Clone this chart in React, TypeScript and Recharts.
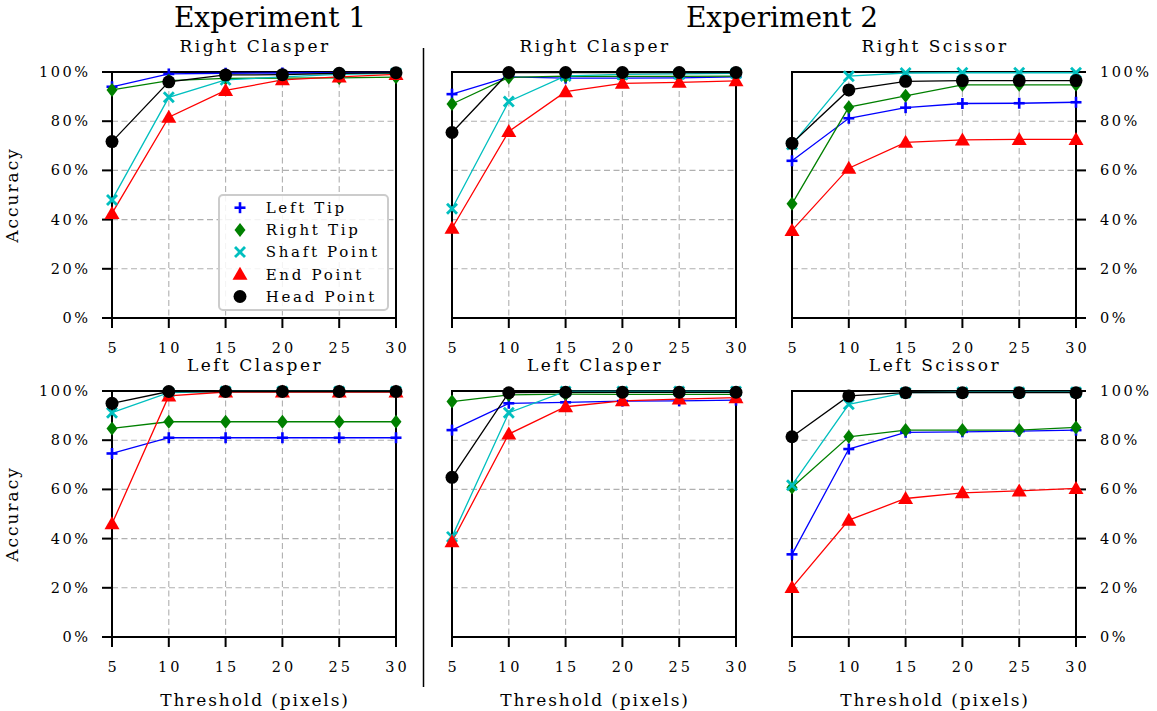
import React from "react";
import { LineChart, Line, XAxis, YAxis, CartesianGrid, ReferenceArea } from "recharts";

const thresholds = [5, 10, 15, 20, 25, 30];
const yTicks = [0, 20, 40, 60, 80, 100];
const seriesNames = ["Left Tip", "Right Tip", "Shaft Point", "End Point", "Head Point"];
const seriesColors = ["#0000ff", "#008000", "#00bfbf", "#ff0000", "#000000"];
const seriesMarkers = ["plus", "diamond", "x", "triangle", "circle"];

// rows follow seriesNames: Left Tip, Right Tip, Shaft Point, End Point, Head Point
const exp1RightClasper = [
  [94, 99.2, 99.5, 99.6, 99.7, 99.8],
  [92.7, 96.5, 97.4, 97.5, 97.6, 97.9],
  [48, 89.7, 96.8, 98, 99, 99.5],
  [42.5, 81.6, 92.5, 96.8, 98, 99],
  [71.7, 96, 98.8, 98.9, 99.5, 99.7],
];
const exp2RightClasper = [
  [91, 98, 97.5, 97.5, 97.6, 98],
  [87, 97.8, 98.3, 98.2, 98.2, 98.3],
  [44.4, 88, 98.4, 99, 99.2, 99.5],
  [36.5, 75.8, 92, 95.4, 95.8, 96.4],
  [75.4, 99.8, 99.8, 99.8, 99.8, 99.8],
];
const exp2RightScissor = [
  [63.9, 81.2, 85.5, 87.2, 87.3, 87.7],
  [46.4, 85.7, 90.3, 94.8, 94.8, 94.8],
  [70.5, 98.3, 99.6, 99.7, 99.7, 99.7],
  [35.6, 60.9, 71.4, 72.4, 72.6, 72.6],
  [71, 92.7, 96.2, 96.5, 96.5, 96.5],
];
const exp1LeftClasper = [
  [74.6, 81, 81, 81, 81, 81],
  [84.8, 87.5, 87.5, 87.5, 87.5, 87.5],
  [91.2, 99.3, 99.8, 99.8, 99.8, 99.8],
  [46, 98, 99.6, 99.6, 99.6, 99.6],
  [95, 99.8, 99.8, 99.8, 99.8, 99.8],
];
const exp2LeftClasper = [
  [84.1, 95, 95.4, 95.9, 96, 96.3],
  [95.7, 98.4, 98.7, 98.6, 98.6, 98.6],
  [40.7, 91.2, 99.8, 99.8, 99.8, 99.8],
  [38.7, 82.5, 93.6, 96, 96.7, 97.3],
  [64.9, 99.3, 99.5, 99.5, 99.5, 99.5],
];
const exp2LeftScissor = [
  [33.6, 76.4, 83.2, 83.4, 83.7, 84.1],
  [60.8, 81.4, 84.1, 84.1, 84.1, 85.2],
  [61.7, 94.6, 99.3, 99.5, 99.5, 99.5],
  [20.1, 47.5, 56.3, 58.6, 59.4, 60.4],
  [81.4, 98, 99.3, 99.3, 99.3, 99.3],
];

const FONT = "'DejaVu Serif', serif";
const PLOT_W = 284;
const PLOT_H = 246;
const SIDE = 100;
const colLeft = [112, 452, 792];
const rowTop = [72, 391];

const panels = [
  { title: "Right Clasper", data: exp1RightClasper, col: 0, row: 0, axis: "left" },
  { title: "Right Clasper", data: exp2RightClasper, col: 1, row: 0, axis: "none" },
  { title: "Right Scissor", data: exp2RightScissor, col: 2, row: 0, axis: "right" },
  { title: "Left Clasper", data: exp1LeftClasper, col: 0, row: 1, axis: "left" },
  { title: "Left Clasper", data: exp2LeftClasper, col: 1, row: 1, axis: "none" },
  { title: "Left Scissor", data: exp2LeftScissor, col: 2, row: 1, axis: "right" },
];

function Marker({ cx, cy, kind, color }: any) {
  if (cx == null || cy == null) return null;
  if (kind === "plus")
    return (
      <g stroke={color} strokeWidth={2.6}>
        <line x1={cx - 5.5} y1={cy} x2={cx + 5.5} y2={cy} />
        <line x1={cx} y1={cy - 5.5} x2={cx} y2={cy + 5.5} />
      </g>
    );
  if (kind === "x")
    return (
      <g stroke={color} strokeWidth={2.8}>
        <line x1={cx - 5} y1={cy - 5} x2={cx + 5} y2={cy + 5} />
        <line x1={cx - 5} y1={cy + 5} x2={cx + 5} y2={cy - 5} />
      </g>
    );
  if (kind === "diamond")
    return <polygon points={`${cx},${cy - 7} ${cx + 5.5},${cy} ${cx},${cy + 7} ${cx - 5.5},${cy}`} fill={color} />;
  if (kind === "triangle")
    return <polygon points={`${cx},${cy - 7.5} ${cx + 7.5},${cy + 5.5} ${cx - 7.5},${cy + 5.5}`} fill={color} />;
  return <circle cx={cx} cy={cy} r={6.5} fill={color} />;
}

function XTick({ x, y, payload }: any) {
  return (
    <text x={x + 1.5} y={y + 25} textAnchor="middle" fontFamily={FONT} fontSize={14.5} fill="#000" style={{ letterSpacing: 3 }}>
      {payload.value}
    </text>
  );
}

function YTick({ x, y, payload, orientation }: any) {
  const right = orientation === "right";
  return (
    <text x={right ? x : x + 2.5} y={y + 5} textAnchor={right ? "start" : "end"} fontFamily={FONT} fontSize={14.5} fill="#000" style={{ letterSpacing: 2.5 }}>
      {payload.value}%
    </text>
  );
}

function Panel({ data, col, row, axis }: any) {
  const rows = thresholds.map((t, i) => {
    const r: any = { t };
    data.forEach((s: number[], k: number) => (r[`s${k}`] = s[i]));
    return r;
  });
  return (
    <div style={{ position: "absolute", left: colLeft[col] - SIDE, top: rowTop[row] - 10 }}>
      <LineChart
        width={PLOT_W + 2 * SIDE}
        height={PLOT_H + 10 + 45}
        data={rows}
        margin={{ top: 10, bottom: 0, left: axis === "left" ? SIDE - 60 : SIDE, right: axis === "right" ? SIDE - 60 : SIDE }}
      >
        <CartesianGrid stroke="#b0b0b0" strokeDasharray="6 3.5" strokeWidth={1.1} />
        <XAxis
          dataKey="t"
          type="number"
          domain={[5, 30]}
          ticks={thresholds}
          interval={0}
          height={45}
          axisLine={false}
          tickLine={{ stroke: "#000", strokeWidth: 2 }}
          tickSize={10}
          tickMargin={0}
          tick={<XTick />}
        />
        <YAxis
          type="number"
          domain={[0, 100]}
          ticks={yTicks}
          interval={0}
          width={60}
          hide={axis === "none"}
          orientation={axis === "right" ? "right" : "left"}
          axisLine={false}
          tickLine={{ stroke: "#000", strokeWidth: 2 }}
          tickSize={10}
          tickMargin={14}
          tick={<YTick orientation={axis === "right" ? "right" : "left"} />}
        />
        <ReferenceArea x1={5} x2={30} y1={0} y2={100} fill="none" stroke="#000" strokeWidth={2} ifOverflow="visible" />
        {seriesNames.map((name, k) => (
          <Line
            key={name}
            name={name}
            dataKey={`s${k}`}
            type="linear"
            stroke={seriesColors[k]}
            strokeWidth={1.3}
            isAnimationActive={false}
            dot={(p: any) => <Marker key={`${name}-${p.index}`} cx={p.cx} cy={p.cy} kind={seriesMarkers[k]} color={seriesColors[k]} />}
            activeDot={false}
          />
        ))}
      </LineChart>
    </div>
  );
}

export default function App() {
  const centers = colLeft.map((l) => l + PLOT_W / 2);
  return (
    <div style={{ position: "absolute", left: 0, top: 0, width: 1157, height: 711, background: "#fff", overflow: "hidden" }}>
      {panels.map((p, i) => (
        <Panel key={i} {...p} />
      ))}
      <svg width={1157} height={711} style={{ position: "absolute", left: 0, top: 0, pointerEvents: "none" }} fontFamily={FONT}>
        <text x={270} y={27} textAnchor="middle" fontSize={28}>Experiment 1</text>
        <text x={782} y={27} textAnchor="middle" fontSize={28}>Experiment 2</text>
        {panels.map((p, i) => (
          <text key={i} x={centers[p.col] + 1} y={p.row === 0 ? 52 : 371} textAnchor="middle" fontSize={17} style={{ letterSpacing: 2.5 }}>
            {p.title}
          </text>
        ))}
        {centers.map((c, i) => (
          <text key={i} x={c + 1} y={706} textAnchor="middle" fontSize={17} style={{ letterSpacing: 1.9 }}>
            Threshold (pixels)
          </text>
        ))}
        {rowTop.map((t, i) => (
          <text key={i} transform={`translate(18 ${t + PLOT_H / 2}) rotate(-90)`} textAnchor="middle" fontSize={17} style={{ letterSpacing: 2 }}>
            Accuracy
          </text>
        ))}
        <line x1={423.5} y1={48} x2={423.5} y2={687} stroke="#000" strokeWidth={1.5} />
        <rect x={219} y={195} width={169} height={115} rx={4} fill="#fff" fillOpacity={0.85} stroke="#cccccc" strokeWidth={2} />
        {seriesNames.map((name, k) => (
          <g key={name}>
            <Marker cx={240} cy={207.7 + 22.2 * k} kind={seriesMarkers[k]} color={seriesColors[k]} />
            <text x={265.7} y={213 + 22.2 * k} fontSize={15} style={{ letterSpacing: 2.7 }}>
              {name}
            </text>
          </g>
        ))}
      </svg>
    </div>
  );
}
